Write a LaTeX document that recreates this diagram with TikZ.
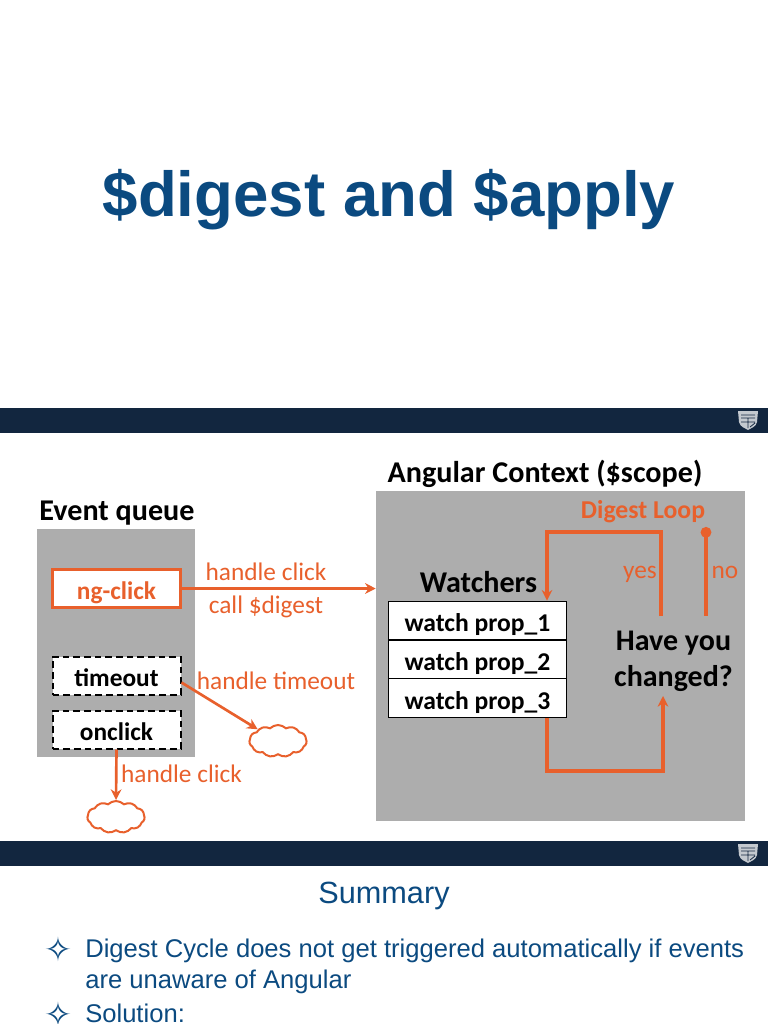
\documentclass[tikz,border=0pt]{standalone}
\usepackage{fontspec}
\setmainfont{Carlito}
\newfontfamily\slidefont{Liberation Sans}
\newfontfamily\symbfont{DejaVu Sans}
\usetikzlibrary{shapes.symbols,arrows.meta}
\definecolor{navyband}{HTML}{12263F}
\definecolor{titleblue}{HTML}{0B4A80}
\definecolor{panelgrey}{HTML}{ADADAD}
\definecolor{flowred}{HTML}{E8602C}
\tikzset{
	panel/.style={fill=panelgrey,draw=none,inner sep=0pt},
	eventbox/.style={fill=white,minimum width=96pt,minimum height=28.5pt,inner sep=0pt,text height=17pt,text depth=0pt,font=\bfseries\fontsize{19}{22}\selectfont},
	dashbox/.style={eventbox,draw=black,line width=1.5pt,dash pattern=on 5pt off 3pt},
	watchbox/.style={draw=black,line width=0.8pt,fill=white,minimum width=134pt,minimum height=29pt,inner sep=0pt,text height=17pt,text depth=0pt,font=\bfseries\fontsize{19.2}{22}\selectfont},
	heading/.style={font=\bfseries\fontsize{22.6}{26}\selectfont},
	flowtext/.style={text=flowred,font=\fontsize{19}{22}\selectfont},
	flow/.style={draw=flowred,line width=2pt,-{Stealth[length=8pt,width=8pt]}},
	puff/.style={cloud,cloud puffs=11,cloud puff arc=90,cloud ignores aspect,draw=flowred,fill=white,line width=1.5pt,minimum width=43pt,minimum height=24pt,inner sep=0pt},
	bodytext/.style={anchor=base west,inner sep=0pt,text=titleblue,font=\slidefont\fontsize{19.2}{22}\selectfont},
	bullet/.style={anchor=base,inner sep=0pt,text=titleblue,font=\symbfont\fontsize{25}{28}\selectfont},
}
\begin{document}
\begin{tikzpicture}[x=0.75pt,y=-0.75pt]
	\useasboundingbox (0,0) rectangle (768,1024);
	\node[text=titleblue,font=\slidefont\bfseries\fontsize{47.7}{56}\selectfont] (title) at (389,200) {\$digest and \$apply};
	% bands and crests
	\fill[navyband] (0,408) rectangle (768,433);
	\fill[navyband] (0,841) rectangle (768,866);
	\foreach \y in {420,853}{
		\fill[white!75!navyband] (738,\y-9) -- (758,\y-9) -- (757,\y+2) .. controls (756,\y+7) and (751,\y+8) .. (748,\y+10) .. controls (745,\y+8) and (740,\y+7) .. (739,\y+2) -- cycle;
		\draw[navyband,line width=0.6pt] (741,\y-5) -- (755,\y-5) (741,\y-2) -- (755,\y-2) (748,\y-2) -- (748,\y+8) (741,\y+2) -- (755,\y+2) (750,\y+7) -- (755,\y+3);
	}
	% left panel
	\node[panel,minimum width=118.5pt,minimum height=171pt] (queue) at (116,643) {};
	\node[heading,anchor=base] (queuehead) at (117,520) {Event queue};
	\node[eventbox,draw=flowred,line width=1.8pt,text=flowred] (ngclick) at (116.5,588.5) {ng-click};
	\node[dashbox] (timeout) at (116.5,675.5) {timeout};
	\node[dashbox] (onclick) at (116.5,729.5) {onclick};
	\node[puff] (cloudtimeout) at (278,741) {};
	\node[puff] (cloudclick) at (116,817) {};
	% right panel
	\node[panel,minimum width=276.75pt,minimum height=247.5pt] (context) at (560.5,656) {};
	\node[heading,anchor=base] (contexthead) at (545,482) {Angular Context (\$scope)};
	\node[heading,anchor=base] (watchers) at (478.5,592) {Watchers};
	\node[watchbox] (propa) at (477.5,620.5) {watch prop\_1};
	\node[watchbox] (propb) at (477.5,659.5) {watch prop\_2};
	\node[watchbox] (propc) at (477.5,698) {watch prop\_3};
	\node[align=center,font=\bfseries\fontsize{22.5}{27}\selectfont] (changed) at (673.5,661) {Have you\\changed?};
	\node[text=flowred,font=\bfseries\fontsize{19.3}{22}\selectfont] (loophead) at (643,512) {Digest Loop};
	\node[flowtext] (yes) at (640,574) {yes};
	\node[flowtext] (no) at (725,572) {no};
	\coordinate (yesend) at (661,616);
	\coordinate (loopright) at (661,532);
	\coordinate (loopleft) at (547,532);
	\coordinate (noend) at (706,616);
	\coordinate (dot) at (706,527);
	\coordinate (lowleft) at (547,771);
	\coordinate (lowright) at (663,771);
	% connectors
	\draw[flow] (ngclick.east) -- (ngclick.east -| context.west);
	\node[flowtext] (handleclick) at (266,572) {handle click};
	\node[flowtext] (calldigest) at (266,607) {call \$digest};
	\node[flowtext] (handletimeout) at (276,681) {handle timeout};
	\node[flowtext] (handleclickb) at (181.5,774) {handle click};
	\draw[flow] (timeout.east) ++(0,7) -- (cloudtimeout.150);
	\draw[flow] (onclick.south) -- (cloudclick.north);
	\draw[flow,line width=2.3pt] (yesend) -- (loopright) -- (loopleft) -- (loopleft |- propa.north);
	\draw[draw=flowred,line width=2.3pt,{Circle[length=8pt]}-] (dot) -- (noend);
	\draw[flow,line width=2.3pt] (propc.south -| lowleft) -- (lowleft) -- (lowright) -- (lowright |- changed.south);
	% summary
	\node[text=titleblue,font=\slidefont\fontsize{23}{28}\selectfont] (summary) at (384,896) {Summary};
	\node[bullet] (bulleta) at (58,961) {✧};
	\node[bodytext] (linea) at (85,957) {Digest Cycle does not get triggered automatically if events};
	\node[bodytext] (lineb) at (85,988) {are unaware of Angular};
	\node[bullet] (bulletb) at (58,1026) {✧};
	\node[bodytext] (linec) at (85,1022) {Solution:};
\end{tikzpicture}
\end{document}
